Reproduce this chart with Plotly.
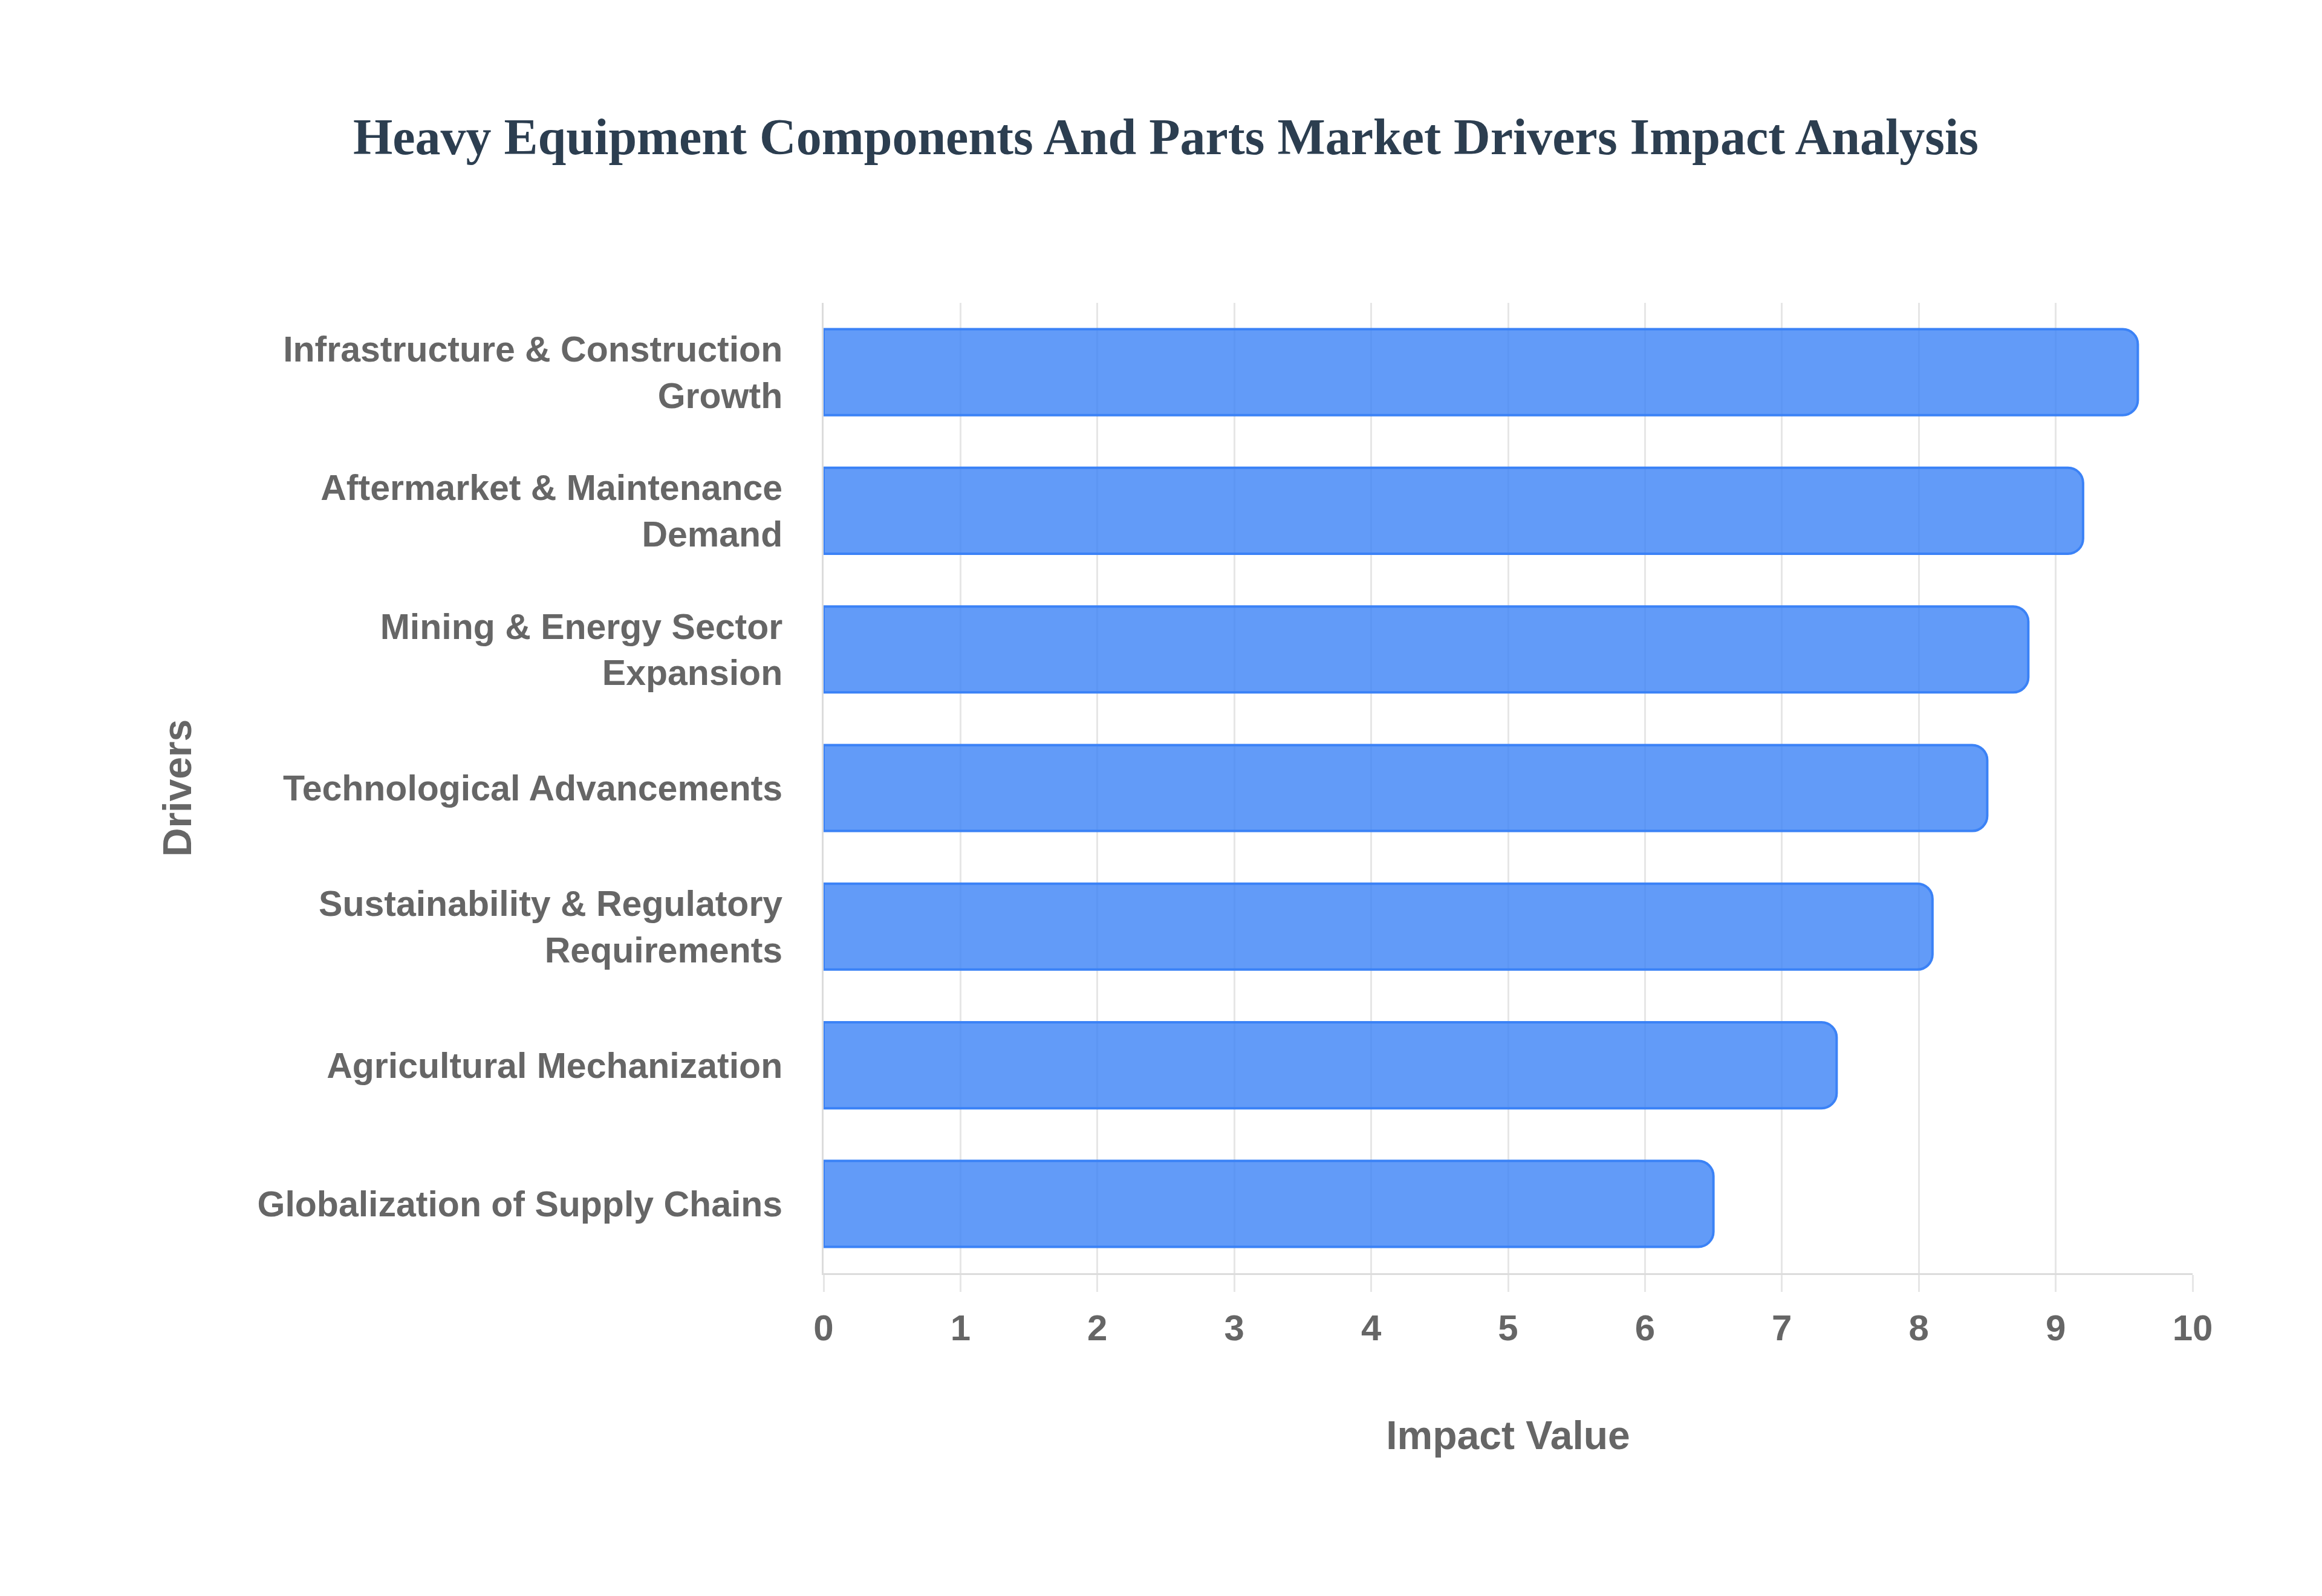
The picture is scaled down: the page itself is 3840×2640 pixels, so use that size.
import plotly.graph_objects as go

# ── data (top to bottom as shown) ──
drivers = [
    "Infrastructure & Construction<br>Growth",
    "Aftermarket & Maintenance<br>Demand",
    "Mining & Energy Sector<br>Expansion",
    "Technological Advancements",
    "Sustainability & Regulatory<br>Requirements",
    "Agricultural Mechanization",
    "Globalization of Supply Chains",
]
impact = [9.6, 9.2, 8.8, 8.5, 8.1, 7.4, 6.5]
x_ticks = list(range(0, 11))

TITLE = "Heavy Equipment Components And Parts Market Drivers Impact Analysis"

BAR_FILL   = "rgba(59,130,246,0.8)"
BAR_EDGE   = "#3B82F6"
GRID       = "#e6e6e6"
TEXT_GRAY  = "#666666"
SANS       = "Liberation Sans, Arial, sans-serif"

fig = go.Figure()

fig.add_trace(go.Bar(
    x           = impact,
    y           = drivers,
    orientation = "h",
    marker      = dict(color=BAR_FILL, line=dict(color=BAR_EDGE, width=4), cornerradius=25),
    width       = 0.62,
    hovertemplate = "%{y}: %{x}<extra></extra>",
))

fig.update_layout(
    title = dict(
        text    = TITLE,
        font    = dict(family="Liberation Serif, Times New Roman, serif", size=84,
                       color="#2c3e50", weight="bold"),
        x       = 0.5,
        xanchor = "center",
        y       = 1 - 218 / 2640,
        yanchor = "middle",
    ),
    xaxis = dict(
        range         = [0, 10],
        tickvals      = x_ticks,
        showgrid      = True,
        gridcolor     = GRID,
        gridwidth     = 3,
        zeroline      = False,
        showline      = True,
        linecolor     = "#dcdcdc",
        linewidth     = 3,
        ticks         = "outside",
        ticklen       = 28,
        tickwidth     = 3,
        tickcolor     = GRID,
        ticklabelstandoff = 8,
        tickfont      = dict(family=SANS, size=60, color=TEXT_GRAY, weight="bold"),
        title         = dict(text="Impact Value", standoff=122,
                             font=dict(family=SANS, size=66, color=TEXT_GRAY, weight="bold")),
    ),
    yaxis = dict(
        autorange     = "reversed",
        showgrid      = False,
        zeroline      = False,
        showline      = True,
        linecolor     = "#dcdcdc",
        linewidth     = 3,
        ticks         = "",
        ticklabelstandoff = 53,
        tickfont      = dict(family=SANS, size=59, color=TEXT_GRAY, weight="bold"),
        title         = dict(text="Drivers", standoff=88,
                             font=dict(family=SANS, size=66, color=TEXT_GRAY, weight="bold")),
    ),
    showlegend    = False,
    plot_bgcolor  = "#FFFFFF",
    paper_bgcolor = "#FFFFFF",
    autosize      = False,
    width         = 3840,
    height        = 2640,
    margin        = dict(l=1354, r=222, t=493, b=542, pad=0),
    bargap        = 0.38,
)

fig.write_html("out.html")
